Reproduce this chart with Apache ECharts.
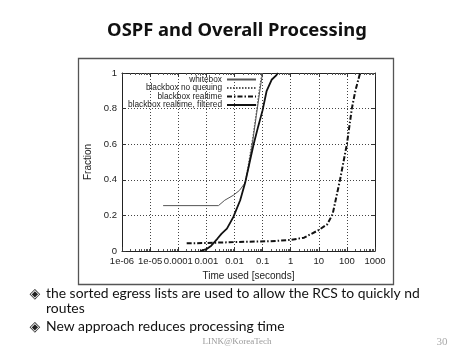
<!DOCTYPE html>
<html><head><meta charset="utf-8">
<script src="https://cdn.jsdelivr.net/npm/echarts@6/dist/echarts.min.js"></script>
<style>html,body{margin:0;padding:0;background:#fff;}#c{width:474px;height:355px;}</style>
</head><body><div id="c"></div>
<script>
var titleText = "OSPF and Overall Processing";
var bullets = ["the sorted egress lists are used to allow the RCS to quickly nd", "routes", "New approach reduces processing time"];
var footer = "LINK@KoreaTech";
var pageNo = "30";

var seriesNames = ["whitebox", "blackbox no queuing", "blackbox realtime", "blackbox realtime, filtered"];
var xTickLabels = ["1e-06","1e-05","0.0001","0.001","0.01","0.1","1","10","100","1000"];

var whiteboxX = [2.9e-5, 0.0027, 0.0045, 0.0091, 0.015, 0.024, 0.032, 0.045, 0.06, 0.08, 0.1];
var whiteboxY = [0.255, 0.255, 0.285, 0.313, 0.34, 0.383, 0.47, 0.62, 0.76, 0.9, 1.0];

var noQueueX = [0.024, 0.03, 0.045, 0.06, 0.075, 0.095];
var noQueueY = [0.383, 0.47, 0.64, 0.78, 0.9, 1.0];

var realtimeX = [2e-4, 0.001, 0.01, 0.19, 1, 3, 10, 20, 31, 57, 100, 150, 200, 295];
var realtimeY = [0.043, 0.045, 0.05, 0.055, 0.062, 0.075, 0.118, 0.15, 0.206, 0.4, 0.6, 0.8, 0.9, 1.0];

var filteredX = [6e-4, 0.001, 0.0015, 0.0025, 0.0035, 0.0054, 0.0091, 0.016, 0.024, 0.036, 0.05, 0.07, 0.1, 0.14, 0.21, 0.3, 0.35];
var filteredY = [0, 0.01, 0.03, 0.07, 0.098, 0.126, 0.19, 0.285, 0.383, 0.51, 0.61, 0.7, 0.79, 0.9, 0.962, 0.985, 1.0];

function pairs(xs, ys){ return xs.map(function(x,i){ return [x, ys[i]]; }); }

var chart = echarts.init(document.getElementById('c'), null, {renderer:'canvas'});
var axisFont = {fontFamily:'Liberation Sans', fontSize:9.5, color:'#222'};
var gridL = 122, gridT = 73, gridW = 253, gridH = 178;

var option = {
  backgroundColor:'#fff',
  animation:false,
  grid:{left:gridL, top:gridT, width:gridW, height:gridH, show:false},
  legend:{
    data:seriesNames, orient:'vertical', align:'right', right:474-257, top:75.5,
    padding:0, itemGap:0.5, itemWidth:29, itemHeight:9,
    itemStyle:{opacity:0},
    textStyle:{fontFamily:'Liberation Sans', fontSize:8.3, color:'#222', padding:[0,0,0,0]},
    backgroundColor:'transparent', selectedMode:false
  },
  xAxis:[{
    type:'log', logBase:10, min:1e-6, max:1000, position:'bottom',
    name:'Time used [seconds]', nameLocation:'middle', nameGap:17,
    nameTextStyle:{fontFamily:'Liberation Sans', fontSize:10, color:'#222'},
    axisLine:{show:true, onZero:false, lineStyle:{color:'#222', width:1}},
    axisTick:{show:true, inside:true, length:4, lineStyle:{color:'#333'}},
    minorTick:{show:true, splitNumber:9, length:2, lineStyle:{color:'#555'}},
    axisLabel:Object.assign({margin:5, formatter:function(v){ var k=Math.round(Math.log10(v))+6; return xTickLabels[k]; }}, axisFont),
    splitLine:{show:true, lineStyle:{type:[1,2], color:'#444', width:1}}
  },{
    type:'log', logBase:10, min:1e-6, max:1000, position:'top',
    axisLine:{show:true, onZero:false, lineStyle:{color:'#222', width:1}},
    axisTick:{show:true, inside:true, length:4, lineStyle:{color:'#333'}},
    minorTick:{show:true, splitNumber:9, length:2, lineStyle:{color:'#555'}},
    axisLabel:{show:false}, splitLine:{show:false}
  }],
  yAxis:[{
    type:'value', min:0, max:1, interval:0.2, position:'left',
    name:'Fraction', nameLocation:'middle', nameGap:23, nameRotate:90,
    nameTextStyle:{fontFamily:'Liberation Sans', fontSize:10, color:'#222'},
    axisLine:{show:true, onZero:false, lineStyle:{color:'#222', width:1}},
    axisTick:{show:true, inside:true, length:4, lineStyle:{color:'#333'}},
    axisLabel:Object.assign({margin:5}, axisFont),
    splitLine:{show:true, lineStyle:{type:[1,2], color:'#444', width:1}}
  },{
    type:'value', min:0, max:1, interval:0.2, position:'right',
    axisLine:{show:true, onZero:false, lineStyle:{color:'#222', width:1}},
    axisTick:{show:true, inside:true, length:4, lineStyle:{color:'#333'}},
    axisLabel:{show:false}, splitLine:{show:false}
  }],
  series:[
    {name:seriesNames[0], type:'line', symbol:'none', data:pairs(whiteboxX, whiteboxY),
     lineStyle:{color:'#555', width:1}, itemStyle:{color:'#555'}, z:3},
    {name:seriesNames[1], type:'line', symbol:'none', data:pairs(noQueueX, noQueueY),
     lineStyle:{color:'#555', width:1, type:[1.5,1.5]}, itemStyle:{color:'#555'}, z:3},
    {name:seriesNames[2], type:'line', symbol:'none', data:pairs(realtimeX, realtimeY),
     lineStyle:{color:'#111', width:2, type:[5,2,1.5,2]}, itemStyle:{color:'#111'}, z:4},
    {name:seriesNames[3], type:'line', symbol:'none', data:pairs(filteredX, filteredY),
     lineStyle:{color:'#111', width:1.8}, itemStyle:{color:'#111'}, z:5}
  ],
  graphic:[
    {type:'rect', shape:{x:78.5, y:58.5, width:315, height:226}, style:{fill:'none', stroke:'#555', lineWidth:1.3}, silent:true},
    {type:'text', x:237, y:31, style:{text:titleText, fontFamily:'Noto Sans', fontWeight:'bold', fontSize:18.4, fill:'#111', align:'center', verticalAlign:'middle'}},
    {type:'text', x:35, y:294, style:{text:'\u25C8', fontFamily:'DejaVu Sans', fontSize:14, fill:'#222', align:'center', verticalAlign:'middle'}},
    {type:'text', x:46, y:294, style:{text:bullets[0], fontFamily:'Lato', fontSize:13.9, fill:'#111', align:'left', verticalAlign:'middle'}},
    {type:'text', x:46, y:309, style:{text:bullets[1], fontFamily:'Lato', fontSize:13.9, fill:'#111', align:'left', verticalAlign:'middle'}},
    {type:'text', x:35, y:327, style:{text:'\u25C8', fontFamily:'DejaVu Sans', fontSize:14, fill:'#222', align:'center', verticalAlign:'middle'}},
    {type:'text', x:46, y:327, style:{text:bullets[2], fontFamily:'Lato', fontSize:13.9, fill:'#111', align:'left', verticalAlign:'middle'}},
    {type:'text', x:237, y:342, style:{text:footer, fontFamily:'Liberation Serif', fontSize:9, fill:'#999', align:'center', verticalAlign:'middle'}},
    {type:'text', x:442, y:342, style:{text:pageNo, fontFamily:'Liberation Serif', fontSize:11, fill:'#aaa', align:'center', verticalAlign:'middle'}}
  ]
};
chart.setOption(option);
</script></body></html>
